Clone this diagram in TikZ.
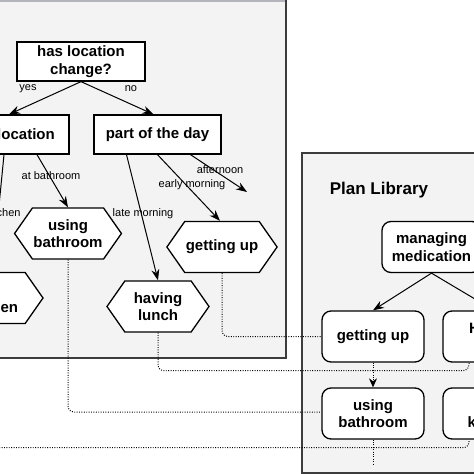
\documentclass[tikz,border=0pt]{standalone}
\usepackage{fontspec}
\setmainfont{Liberation Sans}
\usetikzlibrary{positioning,shapes.symbols,arrows.meta}
\definecolor{PanelGray}{HTML}{F2F3F2}
\definecolor{PanelEdge}{HTML}{3C3C3C}
\definecolor{PanelTop}{HTML}{B4B4BC}

\tikzset{
  nodefont/.style={font=\fontsize{15}{17.5}\selectfont\bfseries},
  test/.style={draw, fill=white, line width=1.3pt, minimum width=128pt,
    minimum height=39pt, inner sep=2pt, align=center, nodefont},
  activity/.style={signal, signal to=east and west, signal pointer angle=110,
    draw, fill=white, line width=1.3pt, minimum width=102pt,
    minimum height=51pt, inner sep=1pt, align=center, nodefont},
  plan/.style={draw, fill=white, rounded corners=9pt, line width=1.3pt,
    minimum width=102pt, minimum height=51pt, inner sep=2pt, align=center, nodefont},
  branch/.style={-{Stealth[length=11pt,width=8pt]}, line width=1pt},
  branchlbl/.style={font=\fontsize{11}{13}\selectfont, inner sep=0pt},
  link/.style={line width=1pt, dash pattern=on 0.9pt off 1.5pt, rounded corners=6pt},
}

\begin{document}
\begin{tikzpicture}[x=1pt, y=-1pt]
  \useasboundingbox (0,0) rectangle (474,474);
  \clip (0,0) rectangle (474,474);

  % decision tree panel
  \fill[PanelGray] (-10,1) rectangle (286,358);
  \draw[PanelTop, line width=2pt] (-10,1) -- (286,1);
  \draw[PanelEdge, line width=1.4pt] (286,0) |- (-10,358);

  % plan library panel
  \draw[PanelEdge, fill=PanelGray, line width=1.4pt] (302,153) rectangle (490,473);
  \node[font=\fontsize{17}{20}\selectfont\bfseries] (libtitle) at (379,190) {Plan Library};

  % tests
  \node[test] (haschange) at (81,61.5) {has location\\change?};
  \node[test, minimum width=86pt] (location) at (26,134.5) {location};
  \node[test, minimum width=127pt] (partday) at (157.5,134.5) {part of the day};

  % recognised activities
  \node[activity] (actbath) at (68,233.5) {using\\bathroom};
  \node[activity, minimum width=129pt] (actkitchen) at (-21.5,298) {using\\the kitchen};
  \node[activity] (actlunch) at (158,306.5) {having\\lunch};
  \node[activity] (actgetup) at (222,247) {getting up};
  \coordinate (afternoon) at (247,192);

  \draw[branch] (haschange.south) -- ([xshift=-17pt]location.north);
  \draw[branch] (haschange.south) -- ([xshift=-4pt]partday.north);
  \node[branchlbl] (lblyes) at (28,89) {yes};
  \node[branchlbl] (lblno) at (131,89) {no};

  \draw[branch] ([xshift=-22pt]location.south) -- ([xshift=14pt]actkitchen.north);
  \draw[branch] ([xshift=11pt]location.south) -- (actbath.north);
  \node[branchlbl] (lblkitchen) at (-3,213) {at kitchen};
  \node[branchlbl] (lblbath) at (51,176) {at bathroom};

  \draw[branch] ([xshift=-31pt]partday.south) -- (actlunch.north);
  \draw[branch] (partday.south) -- ([xshift=-2pt]actgetup.north);
  \draw[branch] ([xshift=33pt]partday.south) -- (afternoon);
  \node[branchlbl] (lbllate) at (143,214) {late morning};
  \node[branchlbl] (lblearly) at (192,185) {early morning};
  \node[branchlbl] (lblafter) at (220,170) {afternoon};

  % plans
  \node[plan, minimum width=99pt] (planmed) at (431.5,247) {managing\\medication};
  \node[plan] (planget) at (373,336.5) {getting up};
  \node[plan] (planlunch) at (494,336.5) {Having\\lunch};
  \node[plan] (planbath) at (373,413.5) {using\\bathroom};
  \node[plan] (plankitchen) at (494,413.5) {using\\kitchen};
  \coordinate (nextstep) at (373,464);

  \draw[branch] (planmed.south) -- (planget.north);
  \draw[branch] (planmed.south) -- (planlunch.north);
  \draw[link, -{Stealth[length=9pt,width=8pt]}, rounded corners=0pt] (planget.south) -- (planbath.north);
  \draw[link, rounded corners=0pt] (planbath.south) -- (nextstep);

  % activity to plan links
  \draw[link] (actgetup.south) |- (planget.west);
  \draw[link] (actbath.south) |- ([yshift=1.5pt]planbath.west);
  \draw[link] (actlunch.south) |- ([xshift=-25pt,yshift=-8pt]planlunch.south)
    -- ([xshift=-25pt]planlunch.south);
  \draw[link] (actkitchen.south) |- ([xshift=-25pt,yshift=-8pt]plankitchen.south)
    -- ([xshift=-25pt]plankitchen.south);
\end{tikzpicture}
\end{document}
